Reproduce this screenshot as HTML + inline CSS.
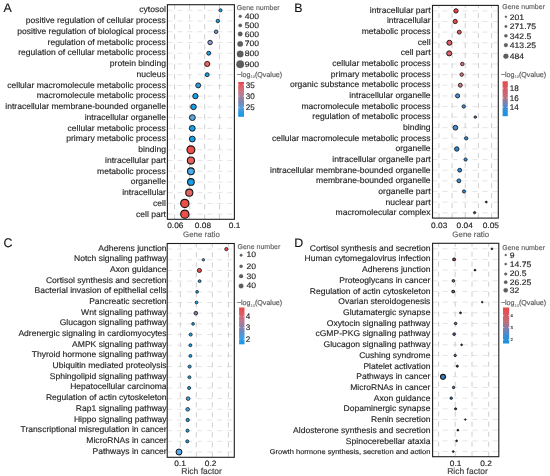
<!DOCTYPE html><html><head><meta charset="utf-8"><style>html,body{margin:0;padding:0;background:#fff;}svg{display:block;will-change:transform;}text{font-family:"Liberation Sans",sans-serif;text-rendering:geometricPrecision;}</style></head><body>
<svg width="550" height="476" viewBox="0 0 550 476">
<rect width="550" height="476" fill="#fff"/>
<line x1="167.40" y1="10.30" x2="234.40" y2="10.30" stroke="#d2d2d2" stroke-width="0.6" stroke-dasharray="5 5"/>
<line x1="167.40" y1="21.03" x2="234.40" y2="21.03" stroke="#d2d2d2" stroke-width="0.6" stroke-dasharray="5 5"/>
<line x1="167.40" y1="31.76" x2="234.40" y2="31.76" stroke="#d2d2d2" stroke-width="0.6" stroke-dasharray="5 5"/>
<line x1="167.40" y1="42.49" x2="234.40" y2="42.49" stroke="#d2d2d2" stroke-width="0.6" stroke-dasharray="5 5"/>
<line x1="167.40" y1="53.22" x2="234.40" y2="53.22" stroke="#d2d2d2" stroke-width="0.6" stroke-dasharray="5 5"/>
<line x1="167.40" y1="63.95" x2="234.40" y2="63.95" stroke="#d2d2d2" stroke-width="0.6" stroke-dasharray="5 5"/>
<line x1="167.40" y1="74.68" x2="234.40" y2="74.68" stroke="#d2d2d2" stroke-width="0.6" stroke-dasharray="5 5"/>
<line x1="167.40" y1="85.41" x2="234.40" y2="85.41" stroke="#d2d2d2" stroke-width="0.6" stroke-dasharray="5 5"/>
<line x1="167.40" y1="96.14" x2="234.40" y2="96.14" stroke="#d2d2d2" stroke-width="0.6" stroke-dasharray="5 5"/>
<line x1="167.40" y1="106.87" x2="234.40" y2="106.87" stroke="#d2d2d2" stroke-width="0.6" stroke-dasharray="5 5"/>
<line x1="167.40" y1="117.60" x2="234.40" y2="117.60" stroke="#d2d2d2" stroke-width="0.6" stroke-dasharray="5 5"/>
<line x1="167.40" y1="128.33" x2="234.40" y2="128.33" stroke="#d2d2d2" stroke-width="0.6" stroke-dasharray="5 5"/>
<line x1="167.40" y1="139.06" x2="234.40" y2="139.06" stroke="#d2d2d2" stroke-width="0.6" stroke-dasharray="5 5"/>
<line x1="167.40" y1="149.79" x2="234.40" y2="149.79" stroke="#d2d2d2" stroke-width="0.6" stroke-dasharray="5 5"/>
<line x1="167.40" y1="160.52" x2="234.40" y2="160.52" stroke="#d2d2d2" stroke-width="0.6" stroke-dasharray="5 5"/>
<line x1="167.40" y1="171.25" x2="234.40" y2="171.25" stroke="#d2d2d2" stroke-width="0.6" stroke-dasharray="5 5"/>
<line x1="167.40" y1="181.98" x2="234.40" y2="181.98" stroke="#d2d2d2" stroke-width="0.6" stroke-dasharray="5 5"/>
<line x1="167.40" y1="192.71" x2="234.40" y2="192.71" stroke="#d2d2d2" stroke-width="0.6" stroke-dasharray="5 5"/>
<line x1="167.40" y1="203.44" x2="234.40" y2="203.44" stroke="#d2d2d2" stroke-width="0.6" stroke-dasharray="5 5"/>
<line x1="167.40" y1="214.17" x2="234.40" y2="214.17" stroke="#d2d2d2" stroke-width="0.6" stroke-dasharray="5 5"/>
<line x1="174.60" y1="219.30" x2="174.60" y2="4.70" stroke="#bdbdbd" stroke-width="0.75" stroke-dasharray="5 5"/>
<line x1="189.70" y1="219.30" x2="189.70" y2="4.70" stroke="#bdbdbd" stroke-width="0.75" stroke-dasharray="5 5"/>
<line x1="204.70" y1="219.30" x2="204.70" y2="4.70" stroke="#bdbdbd" stroke-width="0.75" stroke-dasharray="5 5"/>
<line x1="219.60" y1="219.30" x2="219.60" y2="4.70" stroke="#bdbdbd" stroke-width="0.75" stroke-dasharray="5 5"/>
<circle cx="220.50" cy="10.30" r="1.56" fill="#16a0ea" stroke="#161616" stroke-width="0.77"/>
<circle cx="217.80" cy="21.03" r="1.73" fill="#16a0ea" stroke="#161616" stroke-width="0.80"/>
<circle cx="216.10" cy="31.76" r="1.81" fill="#6d93cc" stroke="#161616" stroke-width="0.81"/>
<circle cx="210.10" cy="42.49" r="2.23" fill="#8b9bd2" stroke="#161616" stroke-width="0.87"/>
<circle cx="208.70" cy="53.22" r="1.98" fill="#16a0ea" stroke="#161616" stroke-width="0.84"/>
<circle cx="207.20" cy="63.95" r="2.57" fill="#ee6666" stroke="#161616" stroke-width="0.92"/>
<circle cx="207.20" cy="74.68" r="1.98" fill="#16a0ea" stroke="#161616" stroke-width="0.84"/>
<circle cx="198.20" cy="85.41" r="2.48" fill="#2a9be6" stroke="#161616" stroke-width="0.91"/>
<circle cx="195.40" cy="96.14" r="2.65" fill="#16a0ea" stroke="#161616" stroke-width="0.94"/>
<circle cx="193.50" cy="106.87" r="2.78" fill="#16a0ea" stroke="#161616" stroke-width="0.96"/>
<circle cx="192.40" cy="117.60" r="2.90" fill="#5aa8e2" stroke="#161616" stroke-width="0.97"/>
<circle cx="192.30" cy="128.33" r="2.90" fill="#16a0ea" stroke="#161616" stroke-width="0.97"/>
<circle cx="192.30" cy="139.06" r="2.90" fill="#16a0ea" stroke="#161616" stroke-width="0.97"/>
<circle cx="190.90" cy="149.79" r="3.94" fill="#ee4e48" stroke="#161616" stroke-width="1.13"/>
<circle cx="190.90" cy="160.52" r="3.57" fill="#e8605e" stroke="#161616" stroke-width="1.08"/>
<circle cx="190.90" cy="171.25" r="3.40" fill="#4aaaea" stroke="#161616" stroke-width="1.05"/>
<circle cx="190.90" cy="181.98" r="3.36" fill="#16a0ea" stroke="#161616" stroke-width="1.04"/>
<circle cx="189.30" cy="192.71" r="3.57" fill="#e46262" stroke="#161616" stroke-width="1.08"/>
<circle cx="184.80" cy="203.44" r="4.12" fill="#ee4e48" stroke="#161616" stroke-width="1.15"/>
<circle cx="184.80" cy="214.17" r="4.12" fill="#ee4e48" stroke="#161616" stroke-width="1.15"/>
<rect x="167.40" y="4.70" width="67.00" height="214.60" fill="none" stroke="#1e1e1e" stroke-width="1.1"/>
<text transform="translate(165.90,12.40) scale(1.030,1)" font-size="8.3" text-anchor="end" fill="#262626" stroke="#262626" stroke-width="0.15">cytosol</text>
<text transform="translate(165.90,23.15) scale(1.030,1)" font-size="8.3" text-anchor="end" fill="#262626" stroke="#262626" stroke-width="0.15">positive regulation of cellular process</text>
<text transform="translate(165.90,33.89) scale(1.030,1)" font-size="8.3" text-anchor="end" fill="#262626" stroke="#262626" stroke-width="0.15">positive regulation of biological process</text>
<text transform="translate(165.90,44.64) scale(1.030,1)" font-size="8.3" text-anchor="end" fill="#262626" stroke="#262626" stroke-width="0.15">regulation of metabolic process</text>
<text transform="translate(165.90,55.39) scale(1.030,1)" font-size="8.3" text-anchor="end" fill="#262626" stroke="#262626" stroke-width="0.15">regulation of cellular metabolic process</text>
<text transform="translate(165.90,66.14) scale(1.030,1)" font-size="8.3" text-anchor="end" fill="#262626" stroke="#262626" stroke-width="0.15">protein binding</text>
<text transform="translate(165.90,76.88) scale(1.030,1)" font-size="8.3" text-anchor="end" fill="#262626" stroke="#262626" stroke-width="0.15">nucleus</text>
<text transform="translate(165.90,87.63) scale(1.030,1)" font-size="8.3" text-anchor="end" fill="#262626" stroke="#262626" stroke-width="0.15">cellular macromolecule metabolic process</text>
<text transform="translate(165.90,98.38) scale(1.030,1)" font-size="8.3" text-anchor="end" fill="#262626" stroke="#262626" stroke-width="0.15">macromolecule metabolic process</text>
<text transform="translate(165.90,109.12) scale(1.030,1)" font-size="8.3" text-anchor="end" fill="#262626" stroke="#262626" stroke-width="0.15">intracellular membrane-bounded organelle</text>
<text transform="translate(165.90,119.87) scale(1.030,1)" font-size="8.3" text-anchor="end" fill="#262626" stroke="#262626" stroke-width="0.15">intracellular organelle</text>
<text transform="translate(165.90,130.62) scale(1.030,1)" font-size="8.3" text-anchor="end" fill="#262626" stroke="#262626" stroke-width="0.15">cellular metabolic process</text>
<text transform="translate(165.90,141.36) scale(1.030,1)" font-size="8.3" text-anchor="end" fill="#262626" stroke="#262626" stroke-width="0.15">primary metabolic process</text>
<text transform="translate(165.90,152.11) scale(1.030,1)" font-size="8.3" text-anchor="end" fill="#262626" stroke="#262626" stroke-width="0.15">binding</text>
<text transform="translate(165.90,162.86) scale(1.030,1)" font-size="8.3" text-anchor="end" fill="#262626" stroke="#262626" stroke-width="0.15">intracellular part</text>
<text transform="translate(165.90,173.60) scale(1.030,1)" font-size="8.3" text-anchor="end" fill="#262626" stroke="#262626" stroke-width="0.15">metabolic process</text>
<text transform="translate(165.90,184.35) scale(1.030,1)" font-size="8.3" text-anchor="end" fill="#262626" stroke="#262626" stroke-width="0.15">organelle</text>
<text transform="translate(165.90,195.10) scale(1.030,1)" font-size="8.3" text-anchor="end" fill="#262626" stroke="#262626" stroke-width="0.15">intracellular</text>
<text transform="translate(165.90,205.85) scale(1.030,1)" font-size="8.3" text-anchor="end" fill="#262626" stroke="#262626" stroke-width="0.15">cell</text>
<text transform="translate(165.90,216.59) scale(1.030,1)" font-size="8.3" text-anchor="end" fill="#262626" stroke="#262626" stroke-width="0.15">cell part</text>
<text transform="translate(175.30,227.90) scale(1.070,1)" font-size="7.8" text-anchor="middle" fill="#262626" stroke="#262626" stroke-width="0.15">0.06</text>
<text transform="translate(203.00,227.90) scale(1.070,1)" font-size="7.8" text-anchor="middle" fill="#262626" stroke="#262626" stroke-width="0.15">0.08</text>
<text transform="translate(234.60,227.90) scale(1.070,1)" font-size="7.8" text-anchor="middle" fill="#262626" stroke="#262626" stroke-width="0.15">0.1</text>
<text x="201.50" y="237.00" font-size="7.9" text-anchor="middle" fill="#606060" stroke="#606060" stroke-width="0.15">Gene ratio</text>
<text x="3.60" y="11.70" font-size="12.4" text-anchor="start" fill="#111" stroke="#111" stroke-width="0.12">A</text>
<text x="236.85" y="9.50" font-size="7.0" text-anchor="start" fill="#606060" stroke="#606060" stroke-width="0.15">Gene number</text>
<circle cx="240.20" cy="16.30" r="1.38" fill="#5e5e5e" stroke="#4a4a4a" stroke-width="0.3"/>
<text transform="translate(244.80,18.50) scale(1.090,1)" font-size="7.9" text-anchor="start" fill="#262626" stroke="#262626" stroke-width="0.15">400</text>
<circle cx="240.20" cy="25.40" r="1.70" fill="#5e5e5e" stroke="#4a4a4a" stroke-width="0.3"/>
<text transform="translate(244.80,27.70) scale(1.090,1)" font-size="7.9" text-anchor="start" fill="#262626" stroke="#262626" stroke-width="0.15">500</text>
<circle cx="240.20" cy="34.00" r="2.23" fill="#5e5e5e" stroke="#4a4a4a" stroke-width="0.3"/>
<text transform="translate(244.80,36.80) scale(1.090,1)" font-size="7.9" text-anchor="start" fill="#262626" stroke="#262626" stroke-width="0.15">600</text>
<circle cx="240.20" cy="43.90" r="2.72" fill="#5e5e5e" stroke="#4a4a4a" stroke-width="0.3"/>
<text transform="translate(244.80,45.70) scale(1.090,1)" font-size="7.9" text-anchor="start" fill="#262626" stroke="#262626" stroke-width="0.15">700</text>
<circle cx="240.20" cy="54.00" r="3.25" fill="#5e5e5e" stroke="#4a4a4a" stroke-width="0.3"/>
<text transform="translate(244.80,56.40) scale(1.090,1)" font-size="7.9" text-anchor="start" fill="#262626" stroke="#262626" stroke-width="0.15">800</text>
<circle cx="240.20" cy="64.20" r="3.80" fill="#5e5e5e" stroke="#4a4a4a" stroke-width="0.3"/>
<text transform="translate(244.80,66.50) scale(1.090,1)" font-size="7.9" text-anchor="start" fill="#262626" stroke="#262626" stroke-width="0.15">900</text>
<text x="236.90" y="77.10" font-size="7.1" fill="#606060" stroke="#606060" stroke-width="0.2" transform="translate(236.90,77.10) scale(1.0,1) translate(-236.90,-77.10)">&#8722;log<tspan font-size="4" dy="1.3" stroke-width="0.05">10</tspan><tspan dy="-1.3">(Qvalue)</tspan></text>
<defs><linearGradient id="gA" x1="0" y1="0" x2="0" y2="1"><stop offset="0" stop-color="#e8404a"/><stop offset="0.12" stop-color="#e06068"/><stop offset="0.3" stop-color="#c87a8c"/><stop offset="0.45" stop-color="#9a82a0"/><stop offset="0.6" stop-color="#7a88bc"/><stop offset="0.75" stop-color="#5aa0dc"/><stop offset="0.88" stop-color="#2a9ae4"/><stop offset="1" stop-color="#1896e6"/></linearGradient></defs>
<rect x="238.20" y="82.00" width="5.80" height="34.80" fill="url(#gA)"/>
<line x1="238.20" y1="84.80" x2="239.40" y2="84.80" stroke="#fff" stroke-width="0.6"/>
<line x1="242.80" y1="84.80" x2="244.00" y2="84.80" stroke="#fff" stroke-width="0.6"/>
<text x="245.80" y="87.60" font-size="8.1" text-anchor="start" fill="#262626" stroke="#262626" stroke-width="0.15">35</text>
<line x1="238.20" y1="96.10" x2="239.40" y2="96.10" stroke="#fff" stroke-width="0.6"/>
<line x1="242.80" y1="96.10" x2="244.00" y2="96.10" stroke="#fff" stroke-width="0.6"/>
<text x="245.80" y="98.90" font-size="8.1" text-anchor="start" fill="#262626" stroke="#262626" stroke-width="0.15">30</text>
<line x1="238.20" y1="107.40" x2="239.40" y2="107.40" stroke="#fff" stroke-width="0.6"/>
<line x1="242.80" y1="107.40" x2="244.00" y2="107.40" stroke="#fff" stroke-width="0.6"/>
<text x="245.80" y="110.20" font-size="8.1" text-anchor="start" fill="#262626" stroke="#262626" stroke-width="0.15">25</text>
<line x1="432.50" y1="10.90" x2="498.30" y2="10.90" stroke="#d2d2d2" stroke-width="0.6" stroke-dasharray="5 5"/>
<line x1="432.50" y1="21.52" x2="498.30" y2="21.52" stroke="#d2d2d2" stroke-width="0.6" stroke-dasharray="5 5"/>
<line x1="432.50" y1="32.14" x2="498.30" y2="32.14" stroke="#d2d2d2" stroke-width="0.6" stroke-dasharray="5 5"/>
<line x1="432.50" y1="42.76" x2="498.30" y2="42.76" stroke="#d2d2d2" stroke-width="0.6" stroke-dasharray="5 5"/>
<line x1="432.50" y1="53.38" x2="498.30" y2="53.38" stroke="#d2d2d2" stroke-width="0.6" stroke-dasharray="5 5"/>
<line x1="432.50" y1="64.00" x2="498.30" y2="64.00" stroke="#d2d2d2" stroke-width="0.6" stroke-dasharray="5 5"/>
<line x1="432.50" y1="74.62" x2="498.30" y2="74.62" stroke="#d2d2d2" stroke-width="0.6" stroke-dasharray="5 5"/>
<line x1="432.50" y1="85.24" x2="498.30" y2="85.24" stroke="#d2d2d2" stroke-width="0.6" stroke-dasharray="5 5"/>
<line x1="432.50" y1="95.86" x2="498.30" y2="95.86" stroke="#d2d2d2" stroke-width="0.6" stroke-dasharray="5 5"/>
<line x1="432.50" y1="106.48" x2="498.30" y2="106.48" stroke="#d2d2d2" stroke-width="0.6" stroke-dasharray="5 5"/>
<line x1="432.50" y1="117.10" x2="498.30" y2="117.10" stroke="#d2d2d2" stroke-width="0.6" stroke-dasharray="5 5"/>
<line x1="432.50" y1="127.72" x2="498.30" y2="127.72" stroke="#d2d2d2" stroke-width="0.6" stroke-dasharray="5 5"/>
<line x1="432.50" y1="138.34" x2="498.30" y2="138.34" stroke="#d2d2d2" stroke-width="0.6" stroke-dasharray="5 5"/>
<line x1="432.50" y1="148.96" x2="498.30" y2="148.96" stroke="#d2d2d2" stroke-width="0.6" stroke-dasharray="5 5"/>
<line x1="432.50" y1="159.58" x2="498.30" y2="159.58" stroke="#d2d2d2" stroke-width="0.6" stroke-dasharray="5 5"/>
<line x1="432.50" y1="170.20" x2="498.30" y2="170.20" stroke="#d2d2d2" stroke-width="0.6" stroke-dasharray="5 5"/>
<line x1="432.50" y1="180.82" x2="498.30" y2="180.82" stroke="#d2d2d2" stroke-width="0.6" stroke-dasharray="5 5"/>
<line x1="432.50" y1="191.44" x2="498.30" y2="191.44" stroke="#d2d2d2" stroke-width="0.6" stroke-dasharray="5 5"/>
<line x1="432.50" y1="202.06" x2="498.30" y2="202.06" stroke="#d2d2d2" stroke-width="0.6" stroke-dasharray="5 5"/>
<line x1="432.50" y1="212.68" x2="498.30" y2="212.68" stroke="#d2d2d2" stroke-width="0.6" stroke-dasharray="5 5"/>
<line x1="438.90" y1="218.10" x2="438.90" y2="5.40" stroke="#bdbdbd" stroke-width="0.75" stroke-dasharray="5 5"/>
<line x1="452.10" y1="218.10" x2="452.10" y2="5.40" stroke="#bdbdbd" stroke-width="0.75" stroke-dasharray="5 5"/>
<line x1="465.20" y1="218.10" x2="465.20" y2="5.40" stroke="#bdbdbd" stroke-width="0.75" stroke-dasharray="5 5"/>
<line x1="478.40" y1="218.10" x2="478.40" y2="5.40" stroke="#bdbdbd" stroke-width="0.75" stroke-dasharray="5 5"/>
<line x1="491.60" y1="218.10" x2="491.60" y2="5.40" stroke="#bdbdbd" stroke-width="0.75" stroke-dasharray="5 5"/>
<circle cx="456.00" cy="10.90" r="2.19" fill="#ee4444" stroke="#161616" stroke-width="0.87"/>
<circle cx="455.20" cy="21.52" r="2.15" fill="#ec4646" stroke="#161616" stroke-width="0.86"/>
<circle cx="459.30" cy="32.14" r="1.98" fill="#e45656" stroke="#161616" stroke-width="0.84"/>
<circle cx="449.40" cy="42.76" r="2.53" fill="#e0606a" stroke="#161616" stroke-width="0.92"/>
<circle cx="449.20" cy="53.38" r="2.53" fill="#e0626c" stroke="#161616" stroke-width="0.92"/>
<circle cx="462.30" cy="64.00" r="1.77" fill="#d86a72" stroke="#161616" stroke-width="0.80"/>
<circle cx="461.70" cy="74.62" r="1.77" fill="#d27074" stroke="#161616" stroke-width="0.80"/>
<circle cx="460.30" cy="85.24" r="1.98" fill="#c87a7c" stroke="#161616" stroke-width="0.84"/>
<circle cx="457.60" cy="95.86" r="2.11" fill="#4a8ed6" stroke="#161616" stroke-width="0.85"/>
<circle cx="463.70" cy="106.48" r="1.69" fill="#3a8ad8" stroke="#161616" stroke-width="0.79"/>
<circle cx="475.30" cy="117.10" r="1.27" fill="#3a6aa8" stroke="#161616" stroke-width="0.73"/>
<circle cx="455.40" cy="127.72" r="2.40" fill="#4a8ed2" stroke="#161616" stroke-width="0.90"/>
<circle cx="466.20" cy="138.34" r="1.69" fill="#2f8ad8" stroke="#161616" stroke-width="0.79"/>
<circle cx="456.80" cy="148.96" r="2.23" fill="#268ada" stroke="#161616" stroke-width="0.87"/>
<circle cx="465.60" cy="159.58" r="1.61" fill="#2a8ad8" stroke="#161616" stroke-width="0.78"/>
<circle cx="459.70" cy="170.20" r="1.94" fill="#2a8ad8" stroke="#161616" stroke-width="0.83"/>
<circle cx="458.90" cy="180.82" r="1.94" fill="#2a8ad8" stroke="#161616" stroke-width="0.83"/>
<circle cx="464.00" cy="191.44" r="1.61" fill="#2a8ad8" stroke="#161616" stroke-width="0.78"/>
<circle cx="486.30" cy="202.06" r="0.98" fill="#333" stroke="#161616" stroke-width="0.68"/>
<circle cx="474.60" cy="212.68" r="1.15" fill="#334" stroke="#161616" stroke-width="0.71"/>
<rect x="432.50" y="5.40" width="65.80" height="212.70" fill="none" stroke="#1e1e1e" stroke-width="1.1"/>
<text transform="translate(430.60,12.60) scale(1.030,1)" font-size="8.3" text-anchor="end" fill="#262626" stroke="#262626" stroke-width="0.15">intracellular part</text>
<text transform="translate(430.60,23.27) scale(1.030,1)" font-size="8.3" text-anchor="end" fill="#262626" stroke="#262626" stroke-width="0.15">intracellular</text>
<text transform="translate(430.60,33.95) scale(1.030,1)" font-size="8.3" text-anchor="end" fill="#262626" stroke="#262626" stroke-width="0.15">metabolic process</text>
<text transform="translate(430.60,44.62) scale(1.030,1)" font-size="8.3" text-anchor="end" fill="#262626" stroke="#262626" stroke-width="0.15">cell</text>
<text transform="translate(430.60,55.30) scale(1.030,1)" font-size="8.3" text-anchor="end" fill="#262626" stroke="#262626" stroke-width="0.15">cell part</text>
<text transform="translate(430.60,65.97) scale(1.030,1)" font-size="8.3" text-anchor="end" fill="#262626" stroke="#262626" stroke-width="0.15">cellular metabolic process</text>
<text transform="translate(430.60,76.64) scale(1.030,1)" font-size="8.3" text-anchor="end" fill="#262626" stroke="#262626" stroke-width="0.15">primary metabolic process</text>
<text transform="translate(430.60,87.32) scale(1.030,1)" font-size="8.3" text-anchor="end" fill="#262626" stroke="#262626" stroke-width="0.15">organic substance metabolic process</text>
<text transform="translate(430.60,97.99) scale(1.030,1)" font-size="8.3" text-anchor="end" fill="#262626" stroke="#262626" stroke-width="0.15">intracellular organelle</text>
<text transform="translate(430.60,108.67) scale(1.030,1)" font-size="8.3" text-anchor="end" fill="#262626" stroke="#262626" stroke-width="0.15">macromolecule metabolic process</text>
<text transform="translate(430.60,119.34) scale(1.030,1)" font-size="8.3" text-anchor="end" fill="#262626" stroke="#262626" stroke-width="0.15">regulation of metabolic process</text>
<text transform="translate(430.60,130.01) scale(1.030,1)" font-size="8.3" text-anchor="end" fill="#262626" stroke="#262626" stroke-width="0.15">binding</text>
<text transform="translate(430.60,140.69) scale(1.030,1)" font-size="8.3" text-anchor="end" fill="#262626" stroke="#262626" stroke-width="0.15">cellular macromolecule metabolic process</text>
<text transform="translate(430.60,151.36) scale(1.030,1)" font-size="8.3" text-anchor="end" fill="#262626" stroke="#262626" stroke-width="0.15">organelle</text>
<text transform="translate(430.60,162.04) scale(1.030,1)" font-size="8.3" text-anchor="end" fill="#262626" stroke="#262626" stroke-width="0.15">intracellular organelle part</text>
<text transform="translate(430.60,172.71) scale(1.030,1)" font-size="8.3" text-anchor="end" fill="#262626" stroke="#262626" stroke-width="0.15">intracellular membrane-bounded organelle</text>
<text transform="translate(430.60,183.38) scale(1.030,1)" font-size="8.3" text-anchor="end" fill="#262626" stroke="#262626" stroke-width="0.15">membrane-bounded organelle</text>
<text transform="translate(430.60,194.06) scale(1.030,1)" font-size="8.3" text-anchor="end" fill="#262626" stroke="#262626" stroke-width="0.15">organelle part</text>
<text transform="translate(430.60,204.73) scale(1.030,1)" font-size="8.3" text-anchor="end" fill="#262626" stroke="#262626" stroke-width="0.15">nuclear part</text>
<text transform="translate(430.60,215.41) scale(1.030,1)" font-size="8.3" text-anchor="end" fill="#262626" stroke="#262626" stroke-width="0.15">macromolecular complex</text>
<text transform="translate(439.20,227.80) scale(1.070,1)" font-size="7.8" text-anchor="middle" fill="#262626" stroke="#262626" stroke-width="0.15">0.03</text>
<text transform="translate(464.70,227.80) scale(1.070,1)" font-size="7.8" text-anchor="middle" fill="#262626" stroke="#262626" stroke-width="0.15">0.04</text>
<text transform="translate(490.80,227.80) scale(1.070,1)" font-size="7.8" text-anchor="middle" fill="#262626" stroke="#262626" stroke-width="0.15">0.05</text>
<text x="470.80" y="236.60" font-size="7.9" text-anchor="middle" fill="#606060" stroke="#606060" stroke-width="0.15">Gene ratio</text>
<text x="294.30" y="11.80" font-size="12.4" text-anchor="start" fill="#111" stroke="#111" stroke-width="0.12">B</text>
<text x="502.20" y="9.40" font-size="7.0" text-anchor="start" fill="#606060" stroke="#606060" stroke-width="0.15">Gene number</text>
<circle cx="505.90" cy="16.80" r="0.98" fill="#5e5e5e" stroke="#4a4a4a" stroke-width="0.3"/>
<text transform="translate(509.80,19.50) scale(1.090,1)" font-size="7.9" text-anchor="start" fill="#262626" stroke="#262626" stroke-width="0.15">201</text>
<circle cx="505.90" cy="26.40" r="1.21" fill="#5e5e5e" stroke="#4a4a4a" stroke-width="0.3"/>
<text transform="translate(509.80,29.30) scale(1.090,1)" font-size="7.9" text-anchor="start" fill="#262626" stroke="#262626" stroke-width="0.15">271.75</text>
<circle cx="505.90" cy="35.80" r="1.56" fill="#5e5e5e" stroke="#4a4a4a" stroke-width="0.3"/>
<text transform="translate(509.80,38.60) scale(1.090,1)" font-size="7.9" text-anchor="start" fill="#262626" stroke="#262626" stroke-width="0.15">342.5</text>
<circle cx="505.90" cy="45.10" r="1.87" fill="#5e5e5e" stroke="#4a4a4a" stroke-width="0.3"/>
<text transform="translate(509.80,47.90) scale(1.090,1)" font-size="7.9" text-anchor="start" fill="#262626" stroke="#262626" stroke-width="0.15">413.25</text>
<circle cx="505.90" cy="56.30" r="2.45" fill="#5e5e5e" stroke="#4a4a4a" stroke-width="0.3"/>
<text transform="translate(509.80,58.80) scale(1.090,1)" font-size="7.9" text-anchor="start" fill="#262626" stroke="#262626" stroke-width="0.15">484</text>
<text x="500.90" y="76.90" font-size="7.1" fill="#606060" stroke="#606060" stroke-width="0.2" transform="translate(500.90,76.90) scale(1.0,1) translate(-500.90,-76.90)">&#8722;log<tspan font-size="4" dy="1.3" stroke-width="0.05">10</tspan><tspan dy="-1.3">(Qvalue)</tspan></text>
<defs><linearGradient id="gB" x1="0" y1="0" x2="0" y2="1"><stop offset="0" stop-color="#e84848"/><stop offset="0.2" stop-color="#d85a64"/><stop offset="0.45" stop-color="#c0707c"/><stop offset="0.62" stop-color="#7a80b4"/><stop offset="0.78" stop-color="#3a8ed6"/><stop offset="1" stop-color="#1e90e2"/></linearGradient></defs>
<rect x="502.60" y="81.30" width="5.20" height="34.90" fill="url(#gB)"/>
<line x1="502.60" y1="88.20" x2="503.80" y2="88.20" stroke="#fff" stroke-width="0.6"/>
<line x1="506.60" y1="88.20" x2="507.80" y2="88.20" stroke="#fff" stroke-width="0.6"/>
<text x="509.80" y="91.00" font-size="8.1" text-anchor="start" fill="#262626" stroke="#262626" stroke-width="0.15">18</text>
<line x1="502.60" y1="97.90" x2="503.80" y2="97.90" stroke="#fff" stroke-width="0.6"/>
<line x1="506.60" y1="97.90" x2="507.80" y2="97.90" stroke="#fff" stroke-width="0.6"/>
<text x="509.80" y="100.70" font-size="8.1" text-anchor="start" fill="#262626" stroke="#262626" stroke-width="0.15">16</text>
<line x1="502.60" y1="107.10" x2="503.80" y2="107.10" stroke="#fff" stroke-width="0.6"/>
<line x1="506.60" y1="107.10" x2="507.80" y2="107.10" stroke="#fff" stroke-width="0.6"/>
<text x="509.80" y="109.90" font-size="8.1" text-anchor="start" fill="#262626" stroke="#262626" stroke-width="0.15">14</text>
<line x1="167.20" y1="249.10" x2="234.30" y2="249.10" stroke="#d2d2d2" stroke-width="0.6" stroke-dasharray="5 5"/>
<line x1="167.20" y1="259.78" x2="234.30" y2="259.78" stroke="#d2d2d2" stroke-width="0.6" stroke-dasharray="5 5"/>
<line x1="167.20" y1="270.46" x2="234.30" y2="270.46" stroke="#d2d2d2" stroke-width="0.6" stroke-dasharray="5 5"/>
<line x1="167.20" y1="281.14" x2="234.30" y2="281.14" stroke="#d2d2d2" stroke-width="0.6" stroke-dasharray="5 5"/>
<line x1="167.20" y1="291.82" x2="234.30" y2="291.82" stroke="#d2d2d2" stroke-width="0.6" stroke-dasharray="5 5"/>
<line x1="167.20" y1="302.50" x2="234.30" y2="302.50" stroke="#d2d2d2" stroke-width="0.6" stroke-dasharray="5 5"/>
<line x1="167.20" y1="313.18" x2="234.30" y2="313.18" stroke="#d2d2d2" stroke-width="0.6" stroke-dasharray="5 5"/>
<line x1="167.20" y1="323.86" x2="234.30" y2="323.86" stroke="#d2d2d2" stroke-width="0.6" stroke-dasharray="5 5"/>
<line x1="167.20" y1="334.54" x2="234.30" y2="334.54" stroke="#d2d2d2" stroke-width="0.6" stroke-dasharray="5 5"/>
<line x1="167.20" y1="345.22" x2="234.30" y2="345.22" stroke="#d2d2d2" stroke-width="0.6" stroke-dasharray="5 5"/>
<line x1="167.20" y1="355.90" x2="234.30" y2="355.90" stroke="#d2d2d2" stroke-width="0.6" stroke-dasharray="5 5"/>
<line x1="167.20" y1="366.58" x2="234.30" y2="366.58" stroke="#d2d2d2" stroke-width="0.6" stroke-dasharray="5 5"/>
<line x1="167.20" y1="377.26" x2="234.30" y2="377.26" stroke="#d2d2d2" stroke-width="0.6" stroke-dasharray="5 5"/>
<line x1="167.20" y1="387.94" x2="234.30" y2="387.94" stroke="#d2d2d2" stroke-width="0.6" stroke-dasharray="5 5"/>
<line x1="167.20" y1="398.62" x2="234.30" y2="398.62" stroke="#d2d2d2" stroke-width="0.6" stroke-dasharray="5 5"/>
<line x1="167.20" y1="409.30" x2="234.30" y2="409.30" stroke="#d2d2d2" stroke-width="0.6" stroke-dasharray="5 5"/>
<line x1="167.20" y1="419.98" x2="234.30" y2="419.98" stroke="#d2d2d2" stroke-width="0.6" stroke-dasharray="5 5"/>
<line x1="167.20" y1="430.66" x2="234.30" y2="430.66" stroke="#d2d2d2" stroke-width="0.6" stroke-dasharray="5 5"/>
<line x1="167.20" y1="441.34" x2="234.30" y2="441.34" stroke="#d2d2d2" stroke-width="0.6" stroke-dasharray="5 5"/>
<line x1="167.20" y1="452.02" x2="234.30" y2="452.02" stroke="#d2d2d2" stroke-width="0.6" stroke-dasharray="5 5"/>
<line x1="180.30" y1="457.30" x2="180.30" y2="243.50" stroke="#bdbdbd" stroke-width="0.75" stroke-dasharray="5 5"/>
<line x1="196.30" y1="457.30" x2="196.30" y2="243.50" stroke="#bdbdbd" stroke-width="0.75" stroke-dasharray="5 5"/>
<line x1="212.30" y1="457.30" x2="212.30" y2="243.50" stroke="#bdbdbd" stroke-width="0.75" stroke-dasharray="5 5"/>
<line x1="228.40" y1="457.30" x2="228.40" y2="243.50" stroke="#bdbdbd" stroke-width="0.75" stroke-dasharray="5 5"/>
<circle cx="226.40" cy="249.10" r="1.65" fill="#ec4a44" stroke="#161616" stroke-width="0.79"/>
<circle cx="203.40" cy="259.78" r="1.23" fill="#16a0ea" stroke="#161616" stroke-width="0.72"/>
<circle cx="199.40" cy="270.46" r="2.07" fill="#ec4a44" stroke="#161616" stroke-width="0.85"/>
<circle cx="199.60" cy="281.14" r="1.40" fill="#16a0ea" stroke="#161616" stroke-width="0.75"/>
<circle cx="197.10" cy="291.82" r="1.40" fill="#16a0ea" stroke="#161616" stroke-width="0.75"/>
<circle cx="196.50" cy="302.50" r="1.40" fill="#16a0ea" stroke="#161616" stroke-width="0.75"/>
<circle cx="195.80" cy="313.18" r="1.81" fill="#8282a8" stroke="#161616" stroke-width="0.81"/>
<circle cx="193.10" cy="323.86" r="1.40" fill="#16a0ea" stroke="#161616" stroke-width="0.75"/>
<circle cx="190.70" cy="334.54" r="1.56" fill="#16a0ea" stroke="#161616" stroke-width="0.77"/>
<circle cx="190.40" cy="345.22" r="1.48" fill="#16a0ea" stroke="#161616" stroke-width="0.76"/>
<circle cx="190.40" cy="355.90" r="1.48" fill="#16a0ea" stroke="#161616" stroke-width="0.76"/>
<circle cx="189.60" cy="366.58" r="1.56" fill="#16a0ea" stroke="#161616" stroke-width="0.77"/>
<circle cx="189.40" cy="377.26" r="1.48" fill="#16a0ea" stroke="#161616" stroke-width="0.76"/>
<circle cx="189.10" cy="387.94" r="1.56" fill="#16a0ea" stroke="#161616" stroke-width="0.77"/>
<circle cx="188.10" cy="398.62" r="1.81" fill="#48a8e8" stroke="#161616" stroke-width="0.81"/>
<circle cx="187.70" cy="409.30" r="1.81" fill="#48a8e8" stroke="#161616" stroke-width="0.81"/>
<circle cx="187.70" cy="419.98" r="1.65" fill="#16a0ea" stroke="#161616" stroke-width="0.79"/>
<circle cx="187.50" cy="430.66" r="1.56" fill="#16a0ea" stroke="#161616" stroke-width="0.77"/>
<circle cx="187.30" cy="441.34" r="1.56" fill="#16a0ea" stroke="#161616" stroke-width="0.77"/>
<circle cx="179.00" cy="452.02" r="2.99" fill="#52aae8" stroke="#161616" stroke-width="0.99"/>
<rect x="167.20" y="243.50" width="67.10" height="213.80" fill="none" stroke="#1e1e1e" stroke-width="1.1"/>
<text transform="translate(166.60,250.50) scale(1.030,1)" font-size="8.3" text-anchor="end" fill="#262626" stroke="#262626" stroke-width="0.15">Adherens junction</text>
<text transform="translate(166.60,261.19) scale(1.030,1)" font-size="8.3" text-anchor="end" fill="#262626" stroke="#262626" stroke-width="0.15">Notch signaling pathway</text>
<text transform="translate(166.60,271.88) scale(1.030,1)" font-size="8.3" text-anchor="end" fill="#262626" stroke="#262626" stroke-width="0.15">Axon guidance</text>
<text transform="translate(166.60,282.57) scale(1.030,1)" font-size="8.3" text-anchor="end" fill="#262626" stroke="#262626" stroke-width="0.15">Cortisol synthesis and secretion</text>
<text transform="translate(166.60,293.26) scale(1.030,1)" font-size="8.3" text-anchor="end" fill="#262626" stroke="#262626" stroke-width="0.15">Bacterial invasion of epithelial cells</text>
<text transform="translate(166.60,303.94) scale(1.030,1)" font-size="8.3" text-anchor="end" fill="#262626" stroke="#262626" stroke-width="0.15">Pancreatic secretion</text>
<text transform="translate(166.60,314.63) scale(1.030,1)" font-size="8.3" text-anchor="end" fill="#262626" stroke="#262626" stroke-width="0.15">Wnt signaling pathway</text>
<text transform="translate(166.60,325.32) scale(1.030,1)" font-size="8.3" text-anchor="end" fill="#262626" stroke="#262626" stroke-width="0.15">Glucagon signaling pathway</text>
<text transform="translate(166.60,336.01) scale(1.030,1)" font-size="8.3" text-anchor="end" fill="#262626" stroke="#262626" stroke-width="0.15">Adrenergic signaling in cardiomyocytes</text>
<text transform="translate(166.60,346.70) scale(1.030,1)" font-size="8.3" text-anchor="end" fill="#262626" stroke="#262626" stroke-width="0.15">AMPK signaling pathway</text>
<text transform="translate(166.60,357.39) scale(1.030,1)" font-size="8.3" text-anchor="end" fill="#262626" stroke="#262626" stroke-width="0.15">Thyroid hormone signaling pathway</text>
<text transform="translate(166.60,368.08) scale(1.030,1)" font-size="8.3" text-anchor="end" fill="#262626" stroke="#262626" stroke-width="0.15">Ubiquitin mediated proteolysis</text>
<text transform="translate(166.60,378.77) scale(1.030,1)" font-size="8.3" text-anchor="end" fill="#262626" stroke="#262626" stroke-width="0.15">Sphingolipid signaling pathway</text>
<text transform="translate(166.60,389.46) scale(1.030,1)" font-size="8.3" text-anchor="end" fill="#262626" stroke="#262626" stroke-width="0.15">Hepatocellular carcinoma</text>
<text transform="translate(166.60,400.15) scale(1.030,1)" font-size="8.3" text-anchor="end" fill="#262626" stroke="#262626" stroke-width="0.15">Regulation of actin cytoskeleton</text>
<text transform="translate(166.60,410.84) scale(1.030,1)" font-size="8.3" text-anchor="end" fill="#262626" stroke="#262626" stroke-width="0.15">Rap1 signaling pathway</text>
<text transform="translate(166.60,421.52) scale(1.030,1)" font-size="8.3" text-anchor="end" fill="#262626" stroke="#262626" stroke-width="0.15">Hippo signaling pathway</text>
<text transform="translate(166.60,432.21) scale(1.030,1)" font-size="8.3" text-anchor="end" fill="#262626" stroke="#262626" stroke-width="0.15">Transcriptional misregulation in cancer</text>
<text transform="translate(166.60,442.90) scale(1.030,1)" font-size="8.3" text-anchor="end" fill="#262626" stroke="#262626" stroke-width="0.15">MicroRNAs in cancer</text>
<text transform="translate(166.60,453.59) scale(1.030,1)" font-size="8.3" text-anchor="end" fill="#262626" stroke="#262626" stroke-width="0.15">Pathways in cancer</text>
<text transform="translate(180.00,465.90) scale(1.070,1)" font-size="7.8" text-anchor="middle" fill="#262626" stroke="#262626" stroke-width="0.15">0.1</text>
<text transform="translate(210.60,465.90) scale(1.070,1)" font-size="7.8" text-anchor="middle" fill="#262626" stroke="#262626" stroke-width="0.15">0.2</text>
<text x="201.60" y="473.60" font-size="8.5" text-anchor="middle" fill="#3a3a3a" stroke="#3a3a3a" stroke-width="0.15">Rich factor</text>
<text x="3.40" y="247.30" font-size="12.4" text-anchor="start" fill="#111" stroke="#111" stroke-width="0.12">C</text>
<text x="237.50" y="248.80" font-size="7.0" text-anchor="start" fill="#606060" stroke="#606060" stroke-width="0.15">Gene number</text>
<circle cx="241.10" cy="255.20" r="1.21" fill="#5e5e5e" stroke="#4a4a4a" stroke-width="0.3"/>
<text transform="translate(246.40,257.40) scale(1.090,1)" font-size="7.9" text-anchor="start" fill="#262626" stroke="#262626" stroke-width="0.15">10</text>
<circle cx="241.10" cy="266.30" r="1.52" fill="#5e5e5e" stroke="#4a4a4a" stroke-width="0.3"/>
<text transform="translate(246.40,268.50) scale(1.090,1)" font-size="7.9" text-anchor="start" fill="#262626" stroke="#262626" stroke-width="0.15">20</text>
<circle cx="241.10" cy="276.20" r="1.92" fill="#5e5e5e" stroke="#4a4a4a" stroke-width="0.3"/>
<text transform="translate(246.40,278.70) scale(1.090,1)" font-size="7.9" text-anchor="start" fill="#262626" stroke="#262626" stroke-width="0.15">30</text>
<circle cx="241.10" cy="286.00" r="2.32" fill="#5e5e5e" stroke="#4a4a4a" stroke-width="0.3"/>
<text transform="translate(246.40,288.40) scale(1.090,1)" font-size="7.9" text-anchor="start" fill="#262626" stroke="#262626" stroke-width="0.15">40</text>
<text x="236.90" y="305.30" font-size="7.1" fill="#606060" stroke="#606060" stroke-width="0.2" transform="translate(236.90,305.30) scale(1.0,1) translate(-236.90,-305.30)">&#8722;log<tspan font-size="4" dy="1.3" stroke-width="0.05">10</tspan><tspan dy="-1.3">(Qvalue)</tspan></text>
<defs><linearGradient id="gC" x1="0" y1="0" x2="0" y2="1"><stop offset="0" stop-color="#e84848"/><stop offset="0.15" stop-color="#e05a62"/><stop offset="0.35" stop-color="#c07890"/><stop offset="0.52" stop-color="#9080a8"/><stop offset="0.65" stop-color="#6a88c4"/><stop offset="0.8" stop-color="#40a0e0"/><stop offset="1" stop-color="#1896e6"/></linearGradient></defs>
<rect x="239.10" y="307.50" width="5.40" height="36.80" fill="url(#gC)"/>
<line x1="239.10" y1="316.30" x2="240.30" y2="316.30" stroke="#fff" stroke-width="0.6"/>
<line x1="243.30" y1="316.30" x2="244.50" y2="316.30" stroke="#fff" stroke-width="0.6"/>
<text x="245.80" y="318.90" font-size="8.1" text-anchor="start" fill="#262626" stroke="#262626" stroke-width="0.15">4</text>
<line x1="239.10" y1="327.60" x2="240.30" y2="327.60" stroke="#fff" stroke-width="0.6"/>
<line x1="243.30" y1="327.60" x2="244.50" y2="327.60" stroke="#fff" stroke-width="0.6"/>
<text x="245.80" y="330.20" font-size="8.1" text-anchor="start" fill="#262626" stroke="#262626" stroke-width="0.15">3</text>
<line x1="239.10" y1="339.10" x2="240.30" y2="339.10" stroke="#fff" stroke-width="0.6"/>
<line x1="243.30" y1="339.10" x2="244.50" y2="339.10" stroke="#fff" stroke-width="0.6"/>
<text x="245.80" y="341.70" font-size="8.1" text-anchor="start" fill="#262626" stroke="#262626" stroke-width="0.15">2</text>
<line x1="432.60" y1="248.80" x2="498.80" y2="248.80" stroke="#d2d2d2" stroke-width="0.6" stroke-dasharray="5 5"/>
<line x1="432.60" y1="259.47" x2="498.80" y2="259.47" stroke="#d2d2d2" stroke-width="0.6" stroke-dasharray="5 5"/>
<line x1="432.60" y1="270.14" x2="498.80" y2="270.14" stroke="#d2d2d2" stroke-width="0.6" stroke-dasharray="5 5"/>
<line x1="432.60" y1="280.81" x2="498.80" y2="280.81" stroke="#d2d2d2" stroke-width="0.6" stroke-dasharray="5 5"/>
<line x1="432.60" y1="291.48" x2="498.80" y2="291.48" stroke="#d2d2d2" stroke-width="0.6" stroke-dasharray="5 5"/>
<line x1="432.60" y1="302.15" x2="498.80" y2="302.15" stroke="#d2d2d2" stroke-width="0.6" stroke-dasharray="5 5"/>
<line x1="432.60" y1="312.82" x2="498.80" y2="312.82" stroke="#d2d2d2" stroke-width="0.6" stroke-dasharray="5 5"/>
<line x1="432.60" y1="323.49" x2="498.80" y2="323.49" stroke="#d2d2d2" stroke-width="0.6" stroke-dasharray="5 5"/>
<line x1="432.60" y1="334.16" x2="498.80" y2="334.16" stroke="#d2d2d2" stroke-width="0.6" stroke-dasharray="5 5"/>
<line x1="432.60" y1="344.83" x2="498.80" y2="344.83" stroke="#d2d2d2" stroke-width="0.6" stroke-dasharray="5 5"/>
<line x1="432.60" y1="355.50" x2="498.80" y2="355.50" stroke="#d2d2d2" stroke-width="0.6" stroke-dasharray="5 5"/>
<line x1="432.60" y1="366.17" x2="498.80" y2="366.17" stroke="#d2d2d2" stroke-width="0.6" stroke-dasharray="5 5"/>
<line x1="432.60" y1="376.84" x2="498.80" y2="376.84" stroke="#d2d2d2" stroke-width="0.6" stroke-dasharray="5 5"/>
<line x1="432.60" y1="387.51" x2="498.80" y2="387.51" stroke="#d2d2d2" stroke-width="0.6" stroke-dasharray="5 5"/>
<line x1="432.60" y1="398.18" x2="498.80" y2="398.18" stroke="#d2d2d2" stroke-width="0.6" stroke-dasharray="5 5"/>
<line x1="432.60" y1="408.85" x2="498.80" y2="408.85" stroke="#d2d2d2" stroke-width="0.6" stroke-dasharray="5 5"/>
<line x1="432.60" y1="419.52" x2="498.80" y2="419.52" stroke="#d2d2d2" stroke-width="0.6" stroke-dasharray="5 5"/>
<line x1="432.60" y1="430.19" x2="498.80" y2="430.19" stroke="#d2d2d2" stroke-width="0.6" stroke-dasharray="5 5"/>
<line x1="432.60" y1="440.86" x2="498.80" y2="440.86" stroke="#d2d2d2" stroke-width="0.6" stroke-dasharray="5 5"/>
<line x1="432.60" y1="451.53" x2="498.80" y2="451.53" stroke="#d2d2d2" stroke-width="0.6" stroke-dasharray="5 5"/>
<line x1="438.60" y1="456.70" x2="438.60" y2="243.30" stroke="#bdbdbd" stroke-width="0.75" stroke-dasharray="5 5"/>
<line x1="455.20" y1="456.70" x2="455.20" y2="243.30" stroke="#bdbdbd" stroke-width="0.75" stroke-dasharray="5 5"/>
<line x1="472.00" y1="456.70" x2="472.00" y2="243.30" stroke="#bdbdbd" stroke-width="0.75" stroke-dasharray="5 5"/>
<line x1="488.70" y1="456.70" x2="488.70" y2="243.30" stroke="#bdbdbd" stroke-width="0.75" stroke-dasharray="5 5"/>
<circle cx="491.90" cy="248.80" r="0.85" fill="#803040" stroke="#161616" stroke-width="0.93"/>
<circle cx="454.10" cy="259.47" r="1.35" fill="#d05868" stroke="#161616" stroke-width="1.01"/>
<circle cx="475.00" cy="270.14" r="0.85" fill="#2a2a3a" stroke="#161616" stroke-width="0.93"/>
<circle cx="453.40" cy="280.81" r="1.27" fill="#7070a0" stroke="#161616" stroke-width="1.00"/>
<circle cx="453.20" cy="291.48" r="1.35" fill="#8a8aa8" stroke="#161616" stroke-width="1.01"/>
<circle cx="482.20" cy="302.15" r="0.77" fill="#3a2a3a" stroke="#161616" stroke-width="0.92"/>
<circle cx="460.50" cy="312.82" r="0.94" fill="#2a3050" stroke="#161616" stroke-width="0.95"/>
<circle cx="455.60" cy="323.49" r="1.19" fill="#5a78b0" stroke="#161616" stroke-width="0.99"/>
<circle cx="454.10" cy="334.16" r="1.27" fill="#6a7ab0" stroke="#161616" stroke-width="1.00"/>
<circle cx="461.60" cy="344.83" r="0.85" fill="#2a2a3a" stroke="#161616" stroke-width="0.93"/>
<circle cx="455.20" cy="355.50" r="1.15" fill="#4a80c0" stroke="#161616" stroke-width="0.98"/>
<circle cx="457.30" cy="366.17" r="1.02" fill="#2a3040" stroke="#161616" stroke-width="0.96"/>
<circle cx="443.00" cy="376.84" r="2.46" fill="#3a86d4" stroke="#161616" stroke-width="1.15"/>
<circle cx="453.60" cy="387.51" r="1.19" fill="#3a80c8" stroke="#161616" stroke-width="0.99"/>
<circle cx="451.20" cy="398.18" r="1.19" fill="#3a8ad0" stroke="#161616" stroke-width="0.99"/>
<circle cx="455.60" cy="408.85" r="1.02" fill="#2a3a50" stroke="#161616" stroke-width="0.96"/>
<circle cx="465.30" cy="419.52" r="0.69" fill="#222" stroke="#161616" stroke-width="0.91"/>
<circle cx="457.90" cy="430.19" r="0.85" fill="#2a2a3a" stroke="#161616" stroke-width="0.93"/>
<circle cx="456.60" cy="440.86" r="0.85" fill="#2a2a3a" stroke="#161616" stroke-width="0.93"/>
<circle cx="453.20" cy="451.53" r="0.85" fill="#2a2a3a" stroke="#161616" stroke-width="0.93"/>
<rect x="432.60" y="243.30" width="66.20" height="213.40" fill="none" stroke="#1e1e1e" stroke-width="1.1"/>
<text transform="translate(430.40,250.60) scale(1.030,1)" font-size="8.3" text-anchor="end" fill="#262626" stroke="#262626" stroke-width="0.15">Cortisol synthesis and secretion</text>
<text transform="translate(430.40,261.33) scale(1.030,1)" font-size="8.3" text-anchor="end" fill="#262626" stroke="#262626" stroke-width="0.15">Human cytomegalovirus infection</text>
<text transform="translate(430.40,272.05) scale(1.030,1)" font-size="8.3" text-anchor="end" fill="#262626" stroke="#262626" stroke-width="0.15">Adherens junction</text>
<text transform="translate(430.40,282.78) scale(1.030,1)" font-size="8.3" text-anchor="end" fill="#262626" stroke="#262626" stroke-width="0.15">Proteoglycans in cancer</text>
<text transform="translate(430.40,293.50) scale(1.030,1)" font-size="8.3" text-anchor="end" fill="#262626" stroke="#262626" stroke-width="0.15">Regulation of actin cytoskeleton</text>
<text transform="translate(430.40,304.23) scale(1.030,1)" font-size="8.3" text-anchor="end" fill="#262626" stroke="#262626" stroke-width="0.15">Ovarian steroidogenesis</text>
<text transform="translate(430.40,314.96) scale(1.030,1)" font-size="8.3" text-anchor="end" fill="#262626" stroke="#262626" stroke-width="0.15">Glutamatergic synapse</text>
<text transform="translate(430.40,325.68) scale(1.030,1)" font-size="8.3" text-anchor="end" fill="#262626" stroke="#262626" stroke-width="0.15">Oxytocin signaling pathway</text>
<text transform="translate(430.40,336.41) scale(1.030,1)" font-size="8.3" text-anchor="end" fill="#262626" stroke="#262626" stroke-width="0.15">cGMP-PKG signaling pathway</text>
<text transform="translate(430.40,347.13) scale(1.030,1)" font-size="8.3" text-anchor="end" fill="#262626" stroke="#262626" stroke-width="0.15">Glucagon signaling pathway</text>
<text transform="translate(430.40,357.86) scale(1.030,1)" font-size="8.3" text-anchor="end" fill="#262626" stroke="#262626" stroke-width="0.15">Cushing syndrome</text>
<text transform="translate(430.40,368.59) scale(1.030,1)" font-size="8.3" text-anchor="end" fill="#262626" stroke="#262626" stroke-width="0.15">Platelet activation</text>
<text transform="translate(430.40,379.31) scale(1.030,1)" font-size="8.3" text-anchor="end" fill="#262626" stroke="#262626" stroke-width="0.15">Pathways in cancer</text>
<text transform="translate(430.40,390.04) scale(1.030,1)" font-size="8.3" text-anchor="end" fill="#262626" stroke="#262626" stroke-width="0.15">MicroRNAs in cancer</text>
<text transform="translate(430.40,400.76) scale(1.030,1)" font-size="8.3" text-anchor="end" fill="#262626" stroke="#262626" stroke-width="0.15">Axon guidance</text>
<text transform="translate(430.40,411.49) scale(1.030,1)" font-size="8.3" text-anchor="end" fill="#262626" stroke="#262626" stroke-width="0.15">Dopaminergic synapse</text>
<text transform="translate(430.40,422.22) scale(1.030,1)" font-size="8.3" text-anchor="end" fill="#262626" stroke="#262626" stroke-width="0.15">Renin secretion</text>
<text transform="translate(430.40,432.94) scale(1.030,1)" font-size="8.3" text-anchor="end" fill="#262626" stroke="#262626" stroke-width="0.15">Aldosterone synthesis and secretion</text>
<text transform="translate(430.40,443.67) scale(1.030,1)" font-size="8.3" text-anchor="end" fill="#262626" stroke="#262626" stroke-width="0.15">Spinocerebellar ataxia</text>
<text transform="translate(430.40,454.39) scale(1.090,1)" font-size="6.9" text-anchor="end" fill="#262626" stroke="#262626" stroke-width="0.15">Growth hormone synthesis, secretion and action</text>
<text transform="translate(455.60,465.70) scale(1.070,1)" font-size="7.8" text-anchor="middle" fill="#262626" stroke="#262626" stroke-width="0.15">0.1</text>
<text transform="translate(486.00,465.70) scale(1.070,1)" font-size="7.8" text-anchor="middle" fill="#262626" stroke="#262626" stroke-width="0.15">0.2</text>
<text x="467.50" y="473.80" font-size="8.5" text-anchor="middle" fill="#3a3a3a" stroke="#3a3a3a" stroke-width="0.15">Rich factor</text>
<text x="294.20" y="246.70" font-size="12.4" text-anchor="start" fill="#111" stroke="#111" stroke-width="0.12">D</text>
<text x="502.20" y="249.80" font-size="7.0" text-anchor="start" fill="#606060" stroke="#606060" stroke-width="0.15">Gene number</text>
<circle cx="505.70" cy="255.00" r="0.94" fill="#5e5e5e" stroke="#4a4a4a" stroke-width="0.3"/>
<text transform="translate(509.80,257.80) scale(1.090,1)" font-size="7.9" text-anchor="start" fill="#262626" stroke="#262626" stroke-width="0.15">9</text>
<circle cx="505.70" cy="264.10" r="1.12" fill="#5e5e5e" stroke="#4a4a4a" stroke-width="0.3"/>
<text transform="translate(509.80,266.60) scale(1.090,1)" font-size="7.9" text-anchor="start" fill="#262626" stroke="#262626" stroke-width="0.15">14.75</text>
<circle cx="505.70" cy="274.00" r="1.34" fill="#5e5e5e" stroke="#4a4a4a" stroke-width="0.3"/>
<text transform="translate(509.80,276.40) scale(1.090,1)" font-size="7.9" text-anchor="start" fill="#262626" stroke="#262626" stroke-width="0.15">20.5</text>
<circle cx="505.70" cy="282.20" r="1.65" fill="#5e5e5e" stroke="#4a4a4a" stroke-width="0.3"/>
<text transform="translate(509.80,284.50) scale(1.090,1)" font-size="7.9" text-anchor="start" fill="#262626" stroke="#262626" stroke-width="0.15">26.25</text>
<circle cx="505.70" cy="290.30" r="2.10" fill="#5e5e5e" stroke="#4a4a4a" stroke-width="0.3"/>
<text transform="translate(509.80,293.00) scale(1.090,1)" font-size="7.9" text-anchor="start" fill="#262626" stroke="#262626" stroke-width="0.15">32</text>
<text x="500.90" y="305.30" font-size="7.1" fill="#606060" stroke="#606060" stroke-width="0.2" transform="translate(500.90,305.30) scale(1.0,1) translate(-500.90,-305.30)">&#8722;log<tspan font-size="4" dy="1.3" stroke-width="0.05">10</tspan><tspan dy="-1.3">(Qvalue)</tspan></text>
<defs><linearGradient id="gD" x1="0" y1="0" x2="0" y2="1"><stop offset="0" stop-color="#e84848"/><stop offset="0.2" stop-color="#d85a64"/><stop offset="0.4" stop-color="#c07078"/><stop offset="0.6" stop-color="#7a80b4"/><stop offset="0.78" stop-color="#3a8ed6"/><stop offset="1" stop-color="#1890e6"/></linearGradient></defs>
<rect x="503.00" y="307.50" width="6.20" height="36.00" fill="url(#gD)"/>
<line x1="503.00" y1="315.60" x2="504.20" y2="315.60" stroke="#fff" stroke-width="0.6"/>
<line x1="508.00" y1="315.60" x2="509.20" y2="315.60" stroke="#fff" stroke-width="0.6"/>
<text x="510.60" y="317.10" font-size="4.2" text-anchor="start" fill="#262626" stroke="#262626" stroke-width="0.15">4</text>
<line x1="503.00" y1="327.60" x2="504.20" y2="327.60" stroke="#fff" stroke-width="0.6"/>
<line x1="508.00" y1="327.60" x2="509.20" y2="327.60" stroke="#fff" stroke-width="0.6"/>
<text x="510.60" y="329.10" font-size="4.2" text-anchor="start" fill="#262626" stroke="#262626" stroke-width="0.15">3</text>
<line x1="503.00" y1="339.90" x2="504.20" y2="339.90" stroke="#fff" stroke-width="0.6"/>
<line x1="508.00" y1="339.90" x2="509.20" y2="339.90" stroke="#fff" stroke-width="0.6"/>
<text x="510.60" y="341.40" font-size="4.2" text-anchor="start" fill="#262626" stroke="#262626" stroke-width="0.15">2</text>
</svg></body></html>
